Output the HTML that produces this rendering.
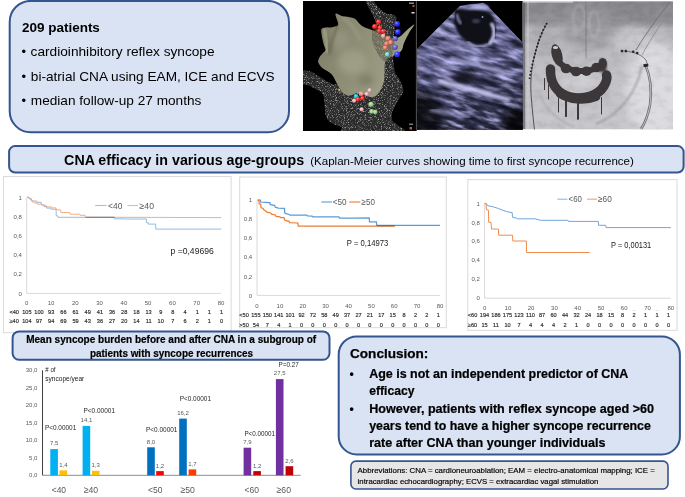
<!DOCTYPE html>
<html><head><meta charset="utf-8"><title>CNA efficacy</title>
<style>html,body{margin:0;padding:0;background:#fff;width:685px;height:497px;overflow:hidden}svg{display:block}</style></head><body>
<svg width="685" height="497" viewBox="0 0 685 497" font-family='"Liberation Sans", Arial, sans-serif'>
<rect x="0.0" y="0.0" width="685.0" height="497.0" rx="0" fill="#fff" stroke="none" stroke-width="1"/>
<rect x="9.7" y="0.9" width="279.3" height="131.4" rx="21" fill="#dae3f3" stroke="#34558f" stroke-width="2"/>
<text x="21.9" y="31.9" font-size="13" font-weight="bold" fill="#000" textLength="78.0" lengthAdjust="spacingAndGlyphs">209 patients</text>
<text x="21.6" y="56.3" font-size="13" fill="#000">•</text>
<text x="21.6" y="81.0" font-size="13" fill="#000">•</text>
<text x="21.6" y="105.1" font-size="13" fill="#000">•</text>
<text x="30.6" y="56.3" font-size="13.4" fill="#000" textLength="184.0" lengthAdjust="spacingAndGlyphs">cardioinhibitory reflex syncope</text>
<text x="30.8" y="81.0" font-size="13.4" fill="#000" textLength="243.9" lengthAdjust="spacingAndGlyphs">bi-atrial CNA using EAM, ICE and ECVS</text>
<text x="30.8" y="105.1" font-size="13.4" fill="#000" textLength="170.6" lengthAdjust="spacingAndGlyphs">median follow-up 27 months</text>
<defs>
<clipPath id="c1"><rect x="303" y="1" width="114" height="130"/></clipPath>
<clipPath id="c2"><rect x="417" y="1" width="105.8" height="128.8"/></clipPath>
<clipPath id="c3"><rect x="523" y="1.2" width="150" height="128.3"/></clipPath>
<filter id="speck" color-interpolation-filters="sRGB" x="0" y="0" width="1" height="1" filterUnits="objectBoundingBox">
 <feTurbulence type="fractalNoise" baseFrequency="1.37" numOctaves="2" seed="3" result="n"/>
 <feColorMatrix in="n" type="matrix" values="0 0 0 0 0.75  0 0 0 0 0.75  0 0 0 0 0.75  2.6 0 0 0 -1.32" result="dots"/>
 <feComposite in="dots" in2="SourceGraphic" operator="in" result="d2"/>
 <feMerge result="m"><feMergeNode in="SourceGraphic"/><feMergeNode in="d2"/></feMerge>
 <feGaussianBlur in="m" stdDeviation="0.75"/>
</filter>
<filter id="bl04" color-interpolation-filters="sRGB"><feGaussianBlur stdDeviation="0.4"/></filter>
<filter id="bl08" color-interpolation-filters="sRGB"><feGaussianBlur stdDeviation="0.8"/></filter>
<filter id="bl15" color-interpolation-filters="sRGB"><feGaussianBlur stdDeviation="1.5"/></filter>
<filter id="bl3" color-interpolation-filters="sRGB" x="-0.3" y="-0.3" width="1.6" height="1.6"><feGaussianBlur stdDeviation="3"/></filter>
<filter id="bl5" color-interpolation-filters="sRGB" x="-0.5" y="-0.5" width="2" height="2"><feGaussianBlur stdDeviation="5"/></filter>
<filter id="usn" color-interpolation-filters="sRGB" x="0" y="0" width="1" height="1" filterUnits="objectBoundingBox">
 <feTurbulence type="fractalNoise" baseFrequency="0.05 0.2" numOctaves="3" seed="7" result="n"/>
 <feColorMatrix in="n" type="matrix" values="0 0 0 0 0.74  0 0 0 0 0.74  0 0 0 0 0.95  2.8 0 0 0 -1.3" result="hi"/>
 <feColorMatrix in="n" type="matrix" values="0 0 0 0 0.05  0 0 0 0 0.05  0 0 0 0 0.1  -2.8 0 0 0 1.3" result="lo"/>
 <feMerge result="m"><feMergeNode in="lo"/><feMergeNode in="hi"/></feMerge>
 <feComposite in="m" in2="SourceGraphic" operator="in"/>
</filter>
<radialGradient id="sph" cx="0.38" cy="0.35" r="0.65">
 <stop offset="0" stop-color="#fff" stop-opacity="0.55"/><stop offset="0.5" stop-color="#fff" stop-opacity="0.1"/><stop offset="1" stop-color="#000" stop-opacity="0.35"/>
</radialGradient>
<linearGradient id="blobg" x1="0" y1="0" x2="1" y2="0.3">
 <stop offset="0" stop-color="#80806a"/><stop offset="0.5" stop-color="#8f8f78"/><stop offset="1" stop-color="#a2a28b"/>
</linearGradient>
<linearGradient id="usg" x1="0" y1="0" x2="0.25" y2="1">
 <stop offset="0" stop-color="#7476a6"/><stop offset="0.5" stop-color="#55567e"/><stop offset="1" stop-color="#2a2a42"/>
</linearGradient>
<filter id="xrn" color-interpolation-filters="sRGB" x="0" y="0" width="1" height="1" filterUnits="objectBoundingBox">
 <feTurbulence type="fractalNoise" baseFrequency="0.09 0.14" numOctaves="3" seed="11" result="n"/>
 <feColorMatrix in="n" type="matrix" values="0 0 0 0 1  0 0 0 0 1  0 0 0 0 1  2.5 0 0 0 -1.1" result="hi"/>
 <feColorMatrix in="n" type="matrix" values="0 0 0 0 0  0 0 0 0 0  0 0 0 0 0  -2.5 0 0 0 1.4" result="lo"/>
 <feMerge result="m"><feMergeNode in="lo"/><feMergeNode in="hi"/></feMerge>
 <feComposite in="m" in2="SourceGraphic" operator="in"/>
</filter>
<linearGradient id="xrg" x1="0" y1="0" x2="0" y2="1">
 <stop offset="0" stop-color="#88888c"/><stop offset="0.15" stop-color="#8e8e92"/><stop offset="0.22" stop-color="#b8b8bc"/><stop offset="1" stop-color="#c8c8cc"/>
</linearGradient>
</defs>
<g clip-path="url(#c1)">
<rect x="303" y="1" width="114" height="130" fill="#000"/>
<path d="M366.0,1.0 C366.3,-0.8 371.0,0.0 373.0,1.0 C375.0,2.0 376.0,5.0 378.0,7.0 C380.0,9.0 382.5,11.7 385.0,13.0 C387.5,14.3 391.1,13.7 393.0,14.6 C394.9,15.5 396.2,16.5 396.5,18.6 C396.8,20.7 395.4,23.8 395.0,27.0 C394.6,30.2 394.2,34.2 394.0,38.0 C393.8,41.8 393.6,46.0 393.5,50.0 C393.4,54.0 393.2,58.3 393.5,62.0 C393.8,65.7 394.1,69.2 395.0,72.0 C395.9,74.8 397.8,76.7 399.0,79.0 C400.2,81.3 401.8,83.8 402.5,86.0 C403.2,88.2 403.6,89.8 403.0,92.0 C402.4,94.2 400.4,96.5 399.0,99.0 C397.6,101.5 395.8,104.5 394.6,107.1 C393.4,109.6 391.9,111.9 391.7,114.3 C391.4,116.7 391.9,119.5 393.1,121.4 C394.3,123.3 397.6,123.9 398.9,125.7 C400.2,127.5 409.8,130.9 401.0,132.0 C392.2,133.1 355.9,132.8 346.0,132.0 C336.1,131.2 344.0,128.6 341.6,127.1 C339.2,125.6 334.2,124.8 331.6,122.9 C329.0,121.0 327.1,119.0 325.9,115.7 C324.7,112.4 324.9,106.5 324.4,102.9 C323.9,99.3 324.2,96.5 323.0,94.3 C321.8,92.1 319.5,91.4 317.3,90.0 C315.1,88.6 312.6,87.2 310.0,86.0 C307.4,84.8 303.3,85.4 302.0,83.0 C300.7,80.6 300.4,73.2 302.0,71.4 C303.6,69.6 307.4,70.4 311.6,72.1 C315.8,73.8 323.1,79.4 327.3,81.4 C331.5,83.4 333.2,85.1 337.0,84.0 C340.8,82.9 345.8,79.8 350.0,75.0 C354.2,70.2 358.3,61.2 362.0,55.0 C365.7,48.8 369.7,43.2 372.0,38.0 C374.3,32.8 376.2,28.3 376.0,24.0 C375.8,19.7 372.7,15.8 371.0,12.0 C369.3,8.2 365.7,2.8 366.0,1.0 Z" fill="#2b2b2b" filter="url(#speck)"/>
<clipPath id="blobc"><path d="M335.5,13.9 C336.1,12.4 339.6,15.4 341.5,15.9 C343.4,16.4 344.8,16.3 347.0,16.8 C349.2,17.3 352.8,17.7 354.8,18.8 C356.8,19.9 357.5,21.8 359.0,23.2 C360.5,24.6 361.6,25.8 364.0,27.0 C366.4,28.2 370.6,29.5 373.3,30.5 C376.0,31.5 377.9,31.9 380.0,33.0 C382.1,34.1 383.8,36.1 386.0,37.0 C388.2,37.9 390.7,38.6 393.0,38.5 C395.3,38.4 397.7,37.9 400.0,36.5 C402.3,35.1 404.6,32.0 407.0,30.0 C409.4,28.0 414.1,24.1 414.4,24.6 C414.7,25.1 410.7,29.9 409.0,33.0 C407.3,36.1 405.2,40.1 404.0,43.0 C402.8,45.9 403.0,48.5 401.5,50.5 C400.0,52.5 397.2,53.8 395.0,55.0 C392.8,56.2 389.7,56.7 388.0,58.0 C386.3,59.3 385.6,61.0 385.0,63.0 C384.4,65.0 384.8,66.9 384.6,70.0 C384.4,73.1 384.6,78.1 383.9,81.4 C383.2,84.7 381.6,87.6 380.3,90.0 C379.0,92.4 377.7,94.5 376.0,95.7 C374.3,96.9 372.4,97.3 370.3,97.1 C368.2,96.9 365.5,94.9 363.1,94.3 C360.7,93.7 358.2,93.0 356.0,93.2 C353.8,93.4 352.2,95.5 350.0,95.5 C347.8,95.5 345.1,94.8 343.0,92.9 C340.9,91.0 339.2,87.4 337.3,84.3 C335.4,81.2 334.0,76.9 331.6,74.3 C329.2,71.7 325.2,70.5 323.0,68.6 C320.8,66.7 319.2,64.7 318.5,63.0 C317.8,61.3 318.2,60.0 318.9,58.4 C319.6,56.8 321.8,54.5 322.9,53.1 C324.0,51.7 325.5,51.4 325.6,50.0 C325.8,48.6 324.5,47.1 323.8,44.5 C323.1,41.9 321.9,37.2 321.6,34.5 C321.4,31.8 320.5,29.4 322.3,28.2 C324.1,27.0 329.6,27.8 332.2,27.2 C334.8,26.6 337.6,26.8 338.2,24.6 C338.8,22.4 334.9,15.4 335.5,13.9 Z"/></clipPath>
<path d="M335.5,13.9 C336.1,12.4 339.6,15.4 341.5,15.9 C343.4,16.4 344.8,16.3 347.0,16.8 C349.2,17.3 352.8,17.7 354.8,18.8 C356.8,19.9 357.5,21.8 359.0,23.2 C360.5,24.6 361.6,25.8 364.0,27.0 C366.4,28.2 370.6,29.5 373.3,30.5 C376.0,31.5 377.9,31.9 380.0,33.0 C382.1,34.1 383.8,36.1 386.0,37.0 C388.2,37.9 390.7,38.6 393.0,38.5 C395.3,38.4 397.7,37.9 400.0,36.5 C402.3,35.1 404.6,32.0 407.0,30.0 C409.4,28.0 414.1,24.1 414.4,24.6 C414.7,25.1 410.7,29.9 409.0,33.0 C407.3,36.1 405.2,40.1 404.0,43.0 C402.8,45.9 403.0,48.5 401.5,50.5 C400.0,52.5 397.2,53.8 395.0,55.0 C392.8,56.2 389.7,56.7 388.0,58.0 C386.3,59.3 385.6,61.0 385.0,63.0 C384.4,65.0 384.8,66.9 384.6,70.0 C384.4,73.1 384.6,78.1 383.9,81.4 C383.2,84.7 381.6,87.6 380.3,90.0 C379.0,92.4 377.7,94.5 376.0,95.7 C374.3,96.9 372.4,97.3 370.3,97.1 C368.2,96.9 365.5,94.9 363.1,94.3 C360.7,93.7 358.2,93.0 356.0,93.2 C353.8,93.4 352.2,95.5 350.0,95.5 C347.8,95.5 345.1,94.8 343.0,92.9 C340.9,91.0 339.2,87.4 337.3,84.3 C335.4,81.2 334.0,76.9 331.6,74.3 C329.2,71.7 325.2,70.5 323.0,68.6 C320.8,66.7 319.2,64.7 318.5,63.0 C317.8,61.3 318.2,60.0 318.9,58.4 C319.6,56.8 321.8,54.5 322.9,53.1 C324.0,51.7 325.5,51.4 325.6,50.0 C325.8,48.6 324.5,47.1 323.8,44.5 C323.1,41.9 321.9,37.2 321.6,34.5 C321.4,31.8 320.5,29.4 322.3,28.2 C324.1,27.0 329.6,27.8 332.2,27.2 C334.8,26.6 337.6,26.8 338.2,24.6 C338.8,22.4 334.9,15.4 335.5,13.9 Z" fill="url(#blobg)" filter="url(#bl04)"/>
<g clip-path="url(#blobc)"><g filter="url(#bl3)"><ellipse cx="352" cy="62" rx="14" ry="12" fill="#a4a48c" opacity="0.7"/><ellipse cx="340" cy="40" rx="8" ry="10" fill="#a0a088" opacity="0.5"/><ellipse cx="328" cy="45" rx="3" ry="12" fill="#66664f" opacity="0.6"/><ellipse cx="366" cy="80" rx="8" ry="6" fill="#6e6e58" opacity="0.5"/></g></g>
<g clip-path="url(#blobc)"><path d="M324,29 C326,38 327.5,46 327,53" stroke="#aaaa92" stroke-width="3" fill="none" opacity="0.8" filter="url(#bl08)"/><path d="M338,26 C334,34 331,44 329,54" stroke="#66664f" stroke-width="2" fill="none" opacity="0.7" filter="url(#bl08)"/><path d="M342,17 C350,22 356,30 360,40" stroke="#a6a68e" stroke-width="3" fill="none" opacity="0.5" filter="url(#bl15)"/></g>
<path d="M372,30 C380,28 390,34 394,40 C396,48 392,58 386,62 C380,60 375,50 372,40 Z" fill="#50503f" opacity="0.55" filter="url(#speck)"/>
<g filter="url(#bl04)"><circle cx="378.6" cy="21.9" r="2.5" fill="#ff1010"/><circle cx="378.6" cy="21.9" r="2.5" fill="url(#sph)"/></g>
<g filter="url(#bl04)"><circle cx="374.6" cy="26.6" r="2.5" fill="#ff1010"/><circle cx="374.6" cy="26.6" r="2.5" fill="url(#sph)"/></g>
<g filter="url(#bl04)"><circle cx="379.9" cy="27.9" r="2.4" fill="#ee1010"/><circle cx="379.9" cy="27.9" r="2.4" fill="url(#sph)"/></g>
<g filter="url(#bl04)"><circle cx="379.2" cy="31.2" r="2.4" fill="#ee1010"/><circle cx="379.2" cy="31.2" r="2.4" fill="url(#sph)"/></g>
<g filter="url(#bl04)"><circle cx="383.2" cy="31.2" r="2.3" fill="#ee1818"/><circle cx="383.2" cy="31.2" r="2.3" fill="url(#sph)"/></g>
<g filter="url(#bl04)"><circle cx="397.2" cy="23.9" r="2.9" fill="#1010ff"/><circle cx="397.2" cy="23.9" r="2.9" fill="url(#sph)"/></g>
<g filter="url(#bl04)"><circle cx="397.8" cy="31.9" r="2.9" fill="#1010ff"/><circle cx="397.8" cy="31.9" r="2.9" fill="url(#sph)"/></g>
<g filter="url(#bl04)"><circle cx="395.2" cy="38.5" r="2.5" fill="#4848d8"/><circle cx="395.2" cy="38.5" r="2.5" fill="url(#sph)"/></g>
<g filter="url(#bl04)"><circle cx="395.2" cy="47.1" r="2.6" fill="#5050e0"/><circle cx="395.2" cy="47.1" r="2.6" fill="url(#sph)"/></g>
<g filter="url(#bl04)"><circle cx="397.2" cy="54.4" r="2.9" fill="#1818ff"/><circle cx="397.2" cy="54.4" r="2.9" fill="url(#sph)"/></g>
<g filter="url(#bl04)"><circle cx="387.9" cy="38.5" r="2.4" fill="#f07060"/><circle cx="387.9" cy="38.5" r="2.4" fill="url(#sph)"/></g>
<g filter="url(#bl04)"><circle cx="390.5" cy="42.5" r="2.4" fill="#f07060"/><circle cx="390.5" cy="42.5" r="2.4" fill="url(#sph)"/></g>
<g filter="url(#bl04)"><circle cx="386.5" cy="43.8" r="2.4" fill="#e86a5a"/><circle cx="386.5" cy="43.8" r="2.4" fill="url(#sph)"/></g>
<g filter="url(#bl04)"><circle cx="385.2" cy="47.8" r="2.4" fill="#e86a5a"/><circle cx="385.2" cy="47.8" r="2.4" fill="url(#sph)"/></g>
<g filter="url(#bl04)"><circle cx="383.2" cy="35.9" r="2.2" fill="#f0a0a0"/><circle cx="383.2" cy="35.9" r="2.2" fill="url(#sph)"/></g>
<g filter="url(#bl04)"><circle cx="387.2" cy="54.4" r="2.3" fill="#60e0d0"/><circle cx="387.2" cy="54.4" r="2.3" fill="url(#sph)"/></g>
<g filter="url(#bl04)"><circle cx="356.1" cy="96.4" r="2.3" fill="#10c0c8"/><circle cx="356.1" cy="96.4" r="2.3" fill="url(#sph)"/></g>
<g filter="url(#bl04)"><circle cx="360.9" cy="93.6" r="2.2" fill="#f4a0a8"/><circle cx="360.9" cy="93.6" r="2.2" fill="url(#sph)"/></g>
<g filter="url(#bl04)"><circle cx="358" cy="99.3" r="2.2" fill="#ff1010"/><circle cx="358" cy="99.3" r="2.2" fill="url(#sph)"/></g>
<g filter="url(#bl04)"><circle cx="362.4" cy="98.3" r="2.2" fill="#ff1010"/><circle cx="362.4" cy="98.3" r="2.2" fill="url(#sph)"/></g>
<g filter="url(#bl04)"><circle cx="354.1" cy="100.7" r="2.1" fill="#f0b0b8"/><circle cx="354.1" cy="100.7" r="2.1" fill="url(#sph)"/></g>
<g filter="url(#bl04)"><circle cx="361.6" cy="109.3" r="2.1" fill="#f0b0b8"/><circle cx="361.6" cy="109.3" r="2.1" fill="url(#sph)"/></g>
<g filter="url(#bl04)"><circle cx="369.6" cy="90.3" r="2.1" fill="#f0b0b8"/><circle cx="369.6" cy="90.3" r="2.1" fill="url(#sph)"/></g>
<g filter="url(#bl04)"><circle cx="366.7" cy="94" r="2.1" fill="#f0b0b8"/><circle cx="366.7" cy="94" r="2.1" fill="url(#sph)"/></g>
<g filter="url(#bl04)"><circle cx="361.7" cy="94" r="2.1" fill="#f08080"/><circle cx="361.7" cy="94" r="2.1" fill="url(#sph)"/></g>
<g filter="url(#bl04)"><circle cx="371" cy="104.3" r="2.6" fill="#90d080"/><circle cx="371" cy="104.3" r="2.6" fill="url(#sph)"/></g>
<g filter="url(#bl04)"><circle cx="371.7" cy="111.4" r="2.4" fill="#90d080"/><circle cx="371.7" cy="111.4" r="2.4" fill="url(#sph)"/></g>
<g filter="url(#bl04)"><circle cx="375.3" cy="112.1" r="2.3" fill="#90d080"/><circle cx="375.3" cy="112.1" r="2.3" fill="url(#sph)"/></g>
<g filter="url(#bl04)"><circle cx="339.4" cy="90" r="1.3" fill="#b09040"/><circle cx="339.4" cy="90" r="1.3" fill="url(#sph)"/></g>
<rect x="409" y="2.5" width="5" height="1.5" fill="#888"/><rect x="412.5" y="5" width="2" height="2" fill="#c05020"/><rect x="411.5" y="12" width="3" height="1.5" fill="#f0d0d8"/><rect x="409" y="123.5" width="4" height="1.5" fill="#777"/><rect x="409.5" y="127" width="2.5" height="2.5" fill="#b06040"/>
<line x1="416.4" y1="1" x2="416.4" y2="131" stroke="#6a6a6a" stroke-width="0.8"/>
</g>
<g clip-path="url(#c2)">
<rect x="417" y="1" width="105.8" height="128.8" fill="#000"/>
<clipPath id="secc"><path d="M417.0,49.0 L421.3,44.5 L459.8,6.0 L469.0,4.5 L476.0,4.2 L482.9,2.7 L486.9,5.3 L521.4,41.2 L523.0,43.0 L523.0,131.0 L417.0,131.0 Z"/></clipPath>
<path d="M417.0,49.0 L421.3,44.5 L459.8,6.0 L469.0,4.5 L476.0,4.2 L482.9,2.7 L486.9,5.3 L521.4,41.2 L523.0,43.0 L523.0,131.0 L417.0,131.0 Z" fill="url(#usg)"/>
<g clip-path="url(#secc)"><g transform="rotate(16 470 65)"><rect x="390" y="-20" width="170" height="170" fill="#fff" filter="url(#usn)"/></g></g>
<ellipse cx="420" cy="120" rx="22" ry="30" fill="#000" opacity="0.75" filter="url(#bl5)"/>
<ellipse cx="521" cy="124" rx="18" ry="16" fill="#000" opacity="0.8" filter="url(#bl5)"/>
<path d="M452,74 L500,86" stroke="#1c1c30" stroke-width="7" opacity="0.7" filter="url(#bl3)"/>
<ellipse cx="465" cy="78" rx="9" ry="6" fill="#101018" opacity="0.75" filter="url(#bl3)"/>
<path d="M438,81 C455,85 470,89 483,93 L510,100" stroke="#cacaf4" stroke-width="4" fill="none" opacity="0.95" filter="url(#bl15)"/>
<path d="M450,58 C465,62 485,67 506,73" stroke="#b4b4e4" stroke-width="3.2" fill="none" opacity="0.85" filter="url(#bl15)"/>
<path d="M430,110 C445,112 458,114 470,117" stroke="#aaaadc" stroke-width="3.2" fill="none" opacity="0.75" filter="url(#bl15)"/>
<path d="M425,60 C440,64 452,66 460,70" stroke="#9898c8" stroke-width="2.5" fill="none" opacity="0.5" filter="url(#bl15)"/>
<ellipse cx="479" cy="7.5" rx="10" ry="3" fill="#b0b0e0" filter="url(#bl15)"/>
<path d="M455.7,9.7 C458.1,8.9 463.6,9.3 469.0,9.7 C474.4,10.1 483.9,9.6 488.3,12.0 C492.7,14.4 494.7,19.4 495.5,24.0 C496.3,28.6 495.6,36.0 493.0,39.8 C490.4,43.6 484.6,47.0 479.8,47.0 C475.0,47.0 468.1,42.7 464.1,39.5 C460.1,36.3 457.3,31.9 455.7,27.7 C454.1,23.5 454.5,17.5 454.5,14.5 C454.5,11.5 453.3,10.5 455.7,9.7 Z" fill="#101018" filter="url(#bl08)"/>
<path d="M491,23 C495.5,29 495,38 489,44" stroke="#c4c4f0" stroke-width="3.2" fill="none" filter="url(#bl08)"/>
<path d="M467,41.5 C473,46.5 481,48 489,44" stroke="#b0b0e0" stroke-width="2.2" fill="none" filter="url(#bl08)"/>
<path d="M457,14 C457.5,18 459,22 461.5,24" stroke="#8c8cc0" stroke-width="2.2" fill="none" filter="url(#bl08)"/>
<circle cx="482.5" cy="17" r="0.9" fill="#a0a0d0"/>
<ellipse cx="476" cy="21" rx="4" ry="2" fill="#40405a" filter="url(#bl08)"/>
</g>
<g clip-path="url(#c3)">
<rect x="523" y="1.2" width="150" height="128.3" fill="url(#xrg)"/>
<g filter="url(#bl5)"><ellipse cx="590" cy="28" rx="30" ry="22" fill="#98989c" opacity="0.8"/><ellipse cx="655" cy="90" rx="30" ry="48" fill="#dedee2" opacity="0.9"/><rect x="600" y="1" width="75" height="20" fill="#858589" opacity="0.5"/><ellipse cx="630" cy="40" rx="20" ry="10" fill="#d0d0d4" opacity="0.6"/><ellipse cx="545" cy="40" rx="14" ry="14" fill="#a4a4a8" opacity="0.6"/><ellipse cx="580" cy="82" rx="18" ry="9" fill="#d2d2d6" opacity="0.8"/><ellipse cx="575" cy="118" rx="40" ry="10" fill="#c4c4c8" opacity="0.6"/></g>
<rect x="523" y="1.2" width="150" height="128.3" fill="#fff" opacity="0.06" filter="url(#xrn)"/>
<rect x="523" y="1.2" width="2.2" height="128" fill="#5a5a5e" opacity="0.7"/>
<line x1="528" y1="2" x2="528.5" y2="130" stroke="#d6d6da" stroke-width="2" opacity="0.6" filter="url(#bl08)"/>
<g fill="none" stroke="#bebec2" stroke-width="1.6" opacity="0.5" filter="url(#bl08)"><ellipse cx="579" cy="18" rx="6" ry="12"/><ellipse cx="594" cy="24" rx="5" ry="13"/><path d="M562,30 C568,25 575,28 577,36"/></g>
<path d="M586,2 L586.5,58" stroke="#707074" stroke-width="3" opacity="0.5" filter="url(#bl15)"/>
<path d="M642,66 C638,85 630,98 620,108 C612,116 604,121 596,124" stroke="#8a8a90" stroke-width="1.4" fill="none" opacity="0.8" filter="url(#bl08)"/>
<path d="M540,96 C548,112 560,122 575,127" stroke="#9a9a9e" stroke-width="1.2" fill="none" opacity="0.8" filter="url(#bl08)"/>
<g filter="url(#bl04)"><path d="M555,50 C555,60 562,68 574,70.5 C585,72 596,70 602,64" stroke="#3c3738" stroke-width="6" fill="none"/><ellipse cx="557" cy="55" rx="5.2" ry="11" fill="#3c3738" transform="rotate(-15 557 55)"/><ellipse cx="566" cy="68.5" rx="5.2" ry="4.8" fill="#3c3738"/><ellipse cx="576" cy="71.5" rx="5.2" ry="4.8" fill="#3c3738"/><ellipse cx="586.5" cy="71.2" rx="5.2" ry="4.8" fill="#3c3738"/><ellipse cx="596.5" cy="67.5" rx="5.2" ry="4.8" fill="#3c3738"/><ellipse cx="602.7" cy="63.5" rx="4.2" ry="5.5" fill="#3c3738"/><path d="M550.5,69 C550,82 556,93 570,97 C584,100 598,96 604,86 C607,81 607.5,78 606.5,75" stroke="#3c3738" stroke-width="9.5" fill="none" stroke-linecap="round"/><path d="M560,94 C570,100 584,102 596,97" stroke="#3c3738" stroke-width="8" fill="none" stroke-linecap="round"/></g>
<ellipse cx="555.5" cy="47.5" rx="2.6" ry="1.6" fill="#d0d0d4" filter="url(#bl04)"/>
<path d="M600,59 C604,58 607,61 606.5,66 L606,72 L599,72 Z" fill="#3c3738" filter="url(#bl08)"/>
<line x1="544.8" y1="79" x2="544.6" y2="89" stroke="#3c3738" stroke-width="3" stroke-linecap="round" filter="url(#bl04)"/>
<line x1="548.4" y1="86" x2="548.2" y2="98" stroke="#3c3738" stroke-width="3" stroke-linecap="round" filter="url(#bl04)"/>
<line x1="558.8" y1="99" x2="558.6" y2="111" stroke="#3c3738" stroke-width="3" stroke-linecap="round" filter="url(#bl04)"/>
<line x1="566.2" y1="102" x2="565.8" y2="115.6" stroke="#3c3738" stroke-width="3" stroke-linecap="round" filter="url(#bl04)"/>
<line x1="578.3" y1="104" x2="578" y2="118.3" stroke="#3c3738" stroke-width="3" stroke-linecap="round" filter="url(#bl04)"/>
<line x1="601.4" y1="98.4" x2="601.2" y2="113" stroke="#3c3738" stroke-width="3" stroke-linecap="round" filter="url(#bl04)"/>
<path d="M547,23 C541,33 537,45 534,58 C531,70 530,85 531.5,100 C532.5,112 533.5,122 534.5,130" stroke="#505054" stroke-width="1" fill="none"/>
<path d="M547,23 C541,33 537,45 534,58 C532,66 530.5,72 529.5,79" stroke="#1e1e22" stroke-width="1.8" stroke-dasharray="1.6 2" fill="none"/>
<path d="M670,2 C660,15 648,30 636,50" stroke="#707074" stroke-width="0.9" fill="none"/>
<path d="M672,8 C664,20 652,36 642,55" stroke="#8a8a8e" stroke-width="0.8" fill="none"/>
<path d="M645,64 C650,75 652,90 650,105 C648,115 645,123 641,129" stroke="#707074" stroke-width="2.6" fill="none"/>
<path d="M645,64 C650,75 652,90 650,105 C648,115 645,123 641,129" stroke="#c8c8cc" stroke-width="0.9" fill="none"/>
<rect x="643.5" y="64" width="4" height="3" fill="#2a2a2a"/>
<path d="M621,51 C630,51 640,53 646,60 L648,66" stroke="#606064" stroke-width="0.8" fill="none"/>
<circle cx="621.9" cy="51.1" r="1.3" fill="#2a2a2e"/>
<circle cx="625.9" cy="51.1" r="1.3" fill="#2a2a2e"/>
<circle cx="633.2" cy="51.8" r="1.3" fill="#2a2a2e"/>
<circle cx="637.2" cy="53.1" r="1.3" fill="#2a2a2e"/>
<circle cx="647.1" cy="65" r="1.3" fill="#2a2a2e"/>
<rect x="523" y="1.2" width="50" height="1.2" fill="#e8e8e8"/>
</g>
<rect x="9.1" y="146.1" width="674.5" height="26.4" rx="6" fill="#dae3f3" stroke="#34558f" stroke-width="2"/>
<text x="64.1" y="165.4" font-size="14" font-weight="bold" fill="#000" textLength="240.0" lengthAdjust="spacingAndGlyphs">CNA efficacy in various age-groups</text>
<text x="310.2" y="165.4" font-size="11.2" fill="#000" textLength="323.7" lengthAdjust="spacingAndGlyphs">(Kaplan-Meier curves showing time to first syncope recurrence)</text>
<rect x="3.6" y="176.6" width="227.5" height="156.1" rx="0" fill="#fff" stroke="#d9d9d9" stroke-width="1"/>
<line x1="26.7" y1="198.0" x2="26.7" y2="293.4" stroke="#d9d9d9" stroke-width="1"/>
<line x1="26.7" y1="293.4" x2="221.0" y2="293.4" stroke="#d9d9d9" stroke-width="1"/>
<text x="21.9" y="295.5" font-size="6" text-anchor="end" fill="#595959">0</text>
<text x="21.9" y="276.4" font-size="6" text-anchor="end" fill="#595959">0,2</text>
<text x="21.9" y="257.3" font-size="6" text-anchor="end" fill="#595959">0,4</text>
<text x="21.9" y="238.3" font-size="6" text-anchor="end" fill="#595959">0,6</text>
<text x="21.9" y="219.2" font-size="6" text-anchor="end" fill="#595959">0,8</text>
<text x="21.9" y="200.1" font-size="6" text-anchor="end" fill="#595959">1</text>
<text x="26.7" y="305.1" font-size="6" text-anchor="middle" fill="#595959">0</text>
<text x="51.0" y="305.1" font-size="6" text-anchor="middle" fill="#595959">10</text>
<text x="75.3" y="305.1" font-size="6" text-anchor="middle" fill="#595959">20</text>
<text x="99.6" y="305.1" font-size="6" text-anchor="middle" fill="#595959">30</text>
<text x="123.9" y="305.1" font-size="6" text-anchor="middle" fill="#595959">40</text>
<text x="148.1" y="305.1" font-size="6" text-anchor="middle" fill="#595959">50</text>
<text x="172.4" y="305.1" font-size="6" text-anchor="middle" fill="#595959">60</text>
<text x="196.7" y="305.1" font-size="6" text-anchor="middle" fill="#595959">70</text>
<text x="221.0" y="305.1" font-size="6" text-anchor="middle" fill="#595959">80</text>
<text x="14.2" y="314.1" font-size="5.6" text-anchor="middle" fill="#2a2a2a" stroke="#2a2a2a" stroke-width="0.15">&lt;40</text>
<text x="26.9" y="314.1" font-size="5.6" text-anchor="middle" fill="#2a2a2a" stroke="#2a2a2a" stroke-width="0.15">105</text>
<text x="39.0" y="314.1" font-size="5.6" text-anchor="middle" fill="#2a2a2a" stroke="#2a2a2a" stroke-width="0.15">100</text>
<text x="51.2" y="314.1" font-size="5.6" text-anchor="middle" fill="#2a2a2a" stroke="#2a2a2a" stroke-width="0.15">93</text>
<text x="63.4" y="314.1" font-size="5.6" text-anchor="middle" fill="#2a2a2a" stroke="#2a2a2a" stroke-width="0.15">66</text>
<text x="75.5" y="314.1" font-size="5.6" text-anchor="middle" fill="#2a2a2a" stroke="#2a2a2a" stroke-width="0.15">61</text>
<text x="87.7" y="314.1" font-size="5.6" text-anchor="middle" fill="#2a2a2a" stroke="#2a2a2a" stroke-width="0.15">49</text>
<text x="99.9" y="314.1" font-size="5.6" text-anchor="middle" fill="#2a2a2a" stroke="#2a2a2a" stroke-width="0.15">41</text>
<text x="112.0" y="314.1" font-size="5.6" text-anchor="middle" fill="#2a2a2a" stroke="#2a2a2a" stroke-width="0.15">36</text>
<text x="124.2" y="314.1" font-size="5.6" text-anchor="middle" fill="#2a2a2a" stroke="#2a2a2a" stroke-width="0.15">28</text>
<text x="136.4" y="314.1" font-size="5.6" text-anchor="middle" fill="#2a2a2a" stroke="#2a2a2a" stroke-width="0.15">18</text>
<text x="148.6" y="314.1" font-size="5.6" text-anchor="middle" fill="#2a2a2a" stroke="#2a2a2a" stroke-width="0.15">13</text>
<text x="160.7" y="314.1" font-size="5.6" text-anchor="middle" fill="#2a2a2a" stroke="#2a2a2a" stroke-width="0.15">9</text>
<text x="172.9" y="314.1" font-size="5.6" text-anchor="middle" fill="#2a2a2a" stroke="#2a2a2a" stroke-width="0.15">8</text>
<text x="185.1" y="314.1" font-size="5.6" text-anchor="middle" fill="#2a2a2a" stroke="#2a2a2a" stroke-width="0.15">4</text>
<text x="197.2" y="314.1" font-size="5.6" text-anchor="middle" fill="#2a2a2a" stroke="#2a2a2a" stroke-width="0.15">1</text>
<text x="209.4" y="314.1" font-size="5.6" text-anchor="middle" fill="#2a2a2a" stroke="#2a2a2a" stroke-width="0.15">1</text>
<text x="221.6" y="314.1" font-size="5.6" text-anchor="middle" fill="#2a2a2a" stroke="#2a2a2a" stroke-width="0.15">1</text>
<text x="14.2" y="323.1" font-size="5.6" text-anchor="middle" fill="#2a2a2a" stroke="#2a2a2a" stroke-width="0.15">≥40</text>
<text x="26.9" y="323.1" font-size="5.6" text-anchor="middle" fill="#2a2a2a" stroke="#2a2a2a" stroke-width="0.15">104</text>
<text x="39.0" y="323.1" font-size="5.6" text-anchor="middle" fill="#2a2a2a" stroke="#2a2a2a" stroke-width="0.15">97</text>
<text x="51.2" y="323.1" font-size="5.6" text-anchor="middle" fill="#2a2a2a" stroke="#2a2a2a" stroke-width="0.15">94</text>
<text x="63.4" y="323.1" font-size="5.6" text-anchor="middle" fill="#2a2a2a" stroke="#2a2a2a" stroke-width="0.15">69</text>
<text x="75.5" y="323.1" font-size="5.6" text-anchor="middle" fill="#2a2a2a" stroke="#2a2a2a" stroke-width="0.15">59</text>
<text x="87.7" y="323.1" font-size="5.6" text-anchor="middle" fill="#2a2a2a" stroke="#2a2a2a" stroke-width="0.15">43</text>
<text x="99.9" y="323.1" font-size="5.6" text-anchor="middle" fill="#2a2a2a" stroke="#2a2a2a" stroke-width="0.15">36</text>
<text x="112.0" y="323.1" font-size="5.6" text-anchor="middle" fill="#2a2a2a" stroke="#2a2a2a" stroke-width="0.15">27</text>
<text x="124.2" y="323.1" font-size="5.6" text-anchor="middle" fill="#2a2a2a" stroke="#2a2a2a" stroke-width="0.15">20</text>
<text x="136.4" y="323.1" font-size="5.6" text-anchor="middle" fill="#2a2a2a" stroke="#2a2a2a" stroke-width="0.15">14</text>
<text x="148.6" y="323.1" font-size="5.6" text-anchor="middle" fill="#2a2a2a" stroke="#2a2a2a" stroke-width="0.15">11</text>
<text x="160.7" y="323.1" font-size="5.6" text-anchor="middle" fill="#2a2a2a" stroke="#2a2a2a" stroke-width="0.15">10</text>
<text x="172.9" y="323.1" font-size="5.6" text-anchor="middle" fill="#2a2a2a" stroke="#2a2a2a" stroke-width="0.15">7</text>
<text x="185.1" y="323.1" font-size="5.6" text-anchor="middle" fill="#2a2a2a" stroke="#2a2a2a" stroke-width="0.15">6</text>
<text x="197.2" y="323.1" font-size="5.6" text-anchor="middle" fill="#2a2a2a" stroke="#2a2a2a" stroke-width="0.15">2</text>
<text x="209.4" y="323.1" font-size="5.6" text-anchor="middle" fill="#2a2a2a" stroke="#2a2a2a" stroke-width="0.15">1</text>
<text x="221.6" y="323.1" font-size="5.6" text-anchor="middle" fill="#2a2a2a" stroke="#2a2a2a" stroke-width="0.15">0</text>
<line x1="95.1" y1="205.5" x2="106.6" y2="205.5" stroke="#9cc2e8" stroke-width="1.1"/>
<text x="108.1" y="208.7" font-size="9" fill="#595959" textLength="14.3" lengthAdjust="spacingAndGlyphs">&lt;40</text>
<line x1="127.4" y1="205.5" x2="138.1" y2="205.5" stroke="#f4b48a" stroke-width="1.1"/>
<text x="139.6" y="208.7" font-size="9" fill="#595959" textLength="14.4" lengthAdjust="spacingAndGlyphs">≥40</text>
<text x="170.5" y="253.6" font-size="9.4" fill="#1a1a1a" textLength="43.3" lengthAdjust="spacingAndGlyphs">p =0,49696</text>
<polyline points="26.9,197.2 28.9,197.2 29.2,198.7 31.5,198.7 31.8,201.0 36.6,201.0 36.9,202.3 41.2,202.3 41.5,205.0 43.8,205.0 44.1,206.6 46.4,206.6 46.7,208.1 50.7,208.1 51.0,209.2 56.0,209.2 56.3,215.8 57.6,215.8 57.9,217.3 114.3,217.3 114.6,218.8 125.0,218.8 125.1,219.0 146.4,219.0 146.4,222.7 148.4,222.7 148.4,224.1 155.7,224.1 155.7,229.1 221.2,229.1" fill="none" stroke="#86b4e2" stroke-width="0.9" stroke-linejoin="miter"/>
<polyline points="26.9,197.2 28.9,197.2 29.2,198.7 30.4,198.7 30.7,200.0 32.0,200.0 32.3,202.0 34.6,202.0 34.9,203.0 36.9,203.0 37.2,204.1 41.5,204.1 41.8,204.9 44.5,204.9 44.8,205.8 46.8,205.8 47.1,206.9 51.4,206.9 51.7,207.9 56.0,207.9 56.3,209.9 60.6,209.9 60.9,212.5 69.8,212.5 70.1,214.2 79.8,214.2 80.1,215.3 85.1,215.3 85.5,217.3 125.0,217.3 221.2,217.6" fill="none" stroke="#f2a672" stroke-width="0.9" stroke-linejoin="miter"/>
<line x1="85.8" y1="217.3" x2="114.5" y2="217.3" stroke="#707070" stroke-width="0.9"/>
<rect x="239.7" y="177.0" width="206.6" height="150.7" rx="0" fill="#fff" stroke="#d9d9d9" stroke-width="1"/>
<line x1="257.0" y1="200.2" x2="257.0" y2="295.4" stroke="#d9d9d9" stroke-width="1"/>
<line x1="257.0" y1="295.4" x2="440.0" y2="295.4" stroke="#d9d9d9" stroke-width="1"/>
<text x="252.2" y="297.5" font-size="6" text-anchor="end" fill="#595959">0</text>
<text x="252.2" y="278.5" font-size="6" text-anchor="end" fill="#595959">0,2</text>
<text x="252.2" y="259.4" font-size="6" text-anchor="end" fill="#595959">0,4</text>
<text x="252.2" y="240.4" font-size="6" text-anchor="end" fill="#595959">0,6</text>
<text x="252.2" y="221.3" font-size="6" text-anchor="end" fill="#595959">0,8</text>
<text x="252.2" y="202.3" font-size="6" text-anchor="end" fill="#595959">1</text>
<text x="257.0" y="308.1" font-size="6" text-anchor="middle" fill="#595959">0</text>
<text x="279.9" y="308.1" font-size="6" text-anchor="middle" fill="#595959">10</text>
<text x="302.8" y="308.1" font-size="6" text-anchor="middle" fill="#595959">20</text>
<text x="325.6" y="308.1" font-size="6" text-anchor="middle" fill="#595959">30</text>
<text x="348.5" y="308.1" font-size="6" text-anchor="middle" fill="#595959">40</text>
<text x="371.4" y="308.1" font-size="6" text-anchor="middle" fill="#595959">50</text>
<text x="394.2" y="308.1" font-size="6" text-anchor="middle" fill="#595959">60</text>
<text x="417.1" y="308.1" font-size="6" text-anchor="middle" fill="#595959">70</text>
<text x="440.0" y="308.1" font-size="6" text-anchor="middle" fill="#595959">80</text>
<text x="244.0" y="316.9" font-size="5.6" text-anchor="middle" fill="#2a2a2a" stroke="#2a2a2a" stroke-width="0.15">&lt;50</text>
<text x="255.9" y="316.9" font-size="5.6" text-anchor="middle" fill="#2a2a2a" stroke="#2a2a2a" stroke-width="0.15">155</text>
<text x="267.3" y="316.9" font-size="5.6" text-anchor="middle" fill="#2a2a2a" stroke="#2a2a2a" stroke-width="0.15">150</text>
<text x="278.7" y="316.9" font-size="5.6" text-anchor="middle" fill="#2a2a2a" stroke="#2a2a2a" stroke-width="0.15">141</text>
<text x="290.1" y="316.9" font-size="5.6" text-anchor="middle" fill="#2a2a2a" stroke="#2a2a2a" stroke-width="0.15">101</text>
<text x="301.5" y="316.9" font-size="5.6" text-anchor="middle" fill="#2a2a2a" stroke="#2a2a2a" stroke-width="0.15">92</text>
<text x="312.9" y="316.9" font-size="5.6" text-anchor="middle" fill="#2a2a2a" stroke="#2a2a2a" stroke-width="0.15">72</text>
<text x="324.3" y="316.9" font-size="5.6" text-anchor="middle" fill="#2a2a2a" stroke="#2a2a2a" stroke-width="0.15">58</text>
<text x="335.7" y="316.9" font-size="5.6" text-anchor="middle" fill="#2a2a2a" stroke="#2a2a2a" stroke-width="0.15">49</text>
<text x="347.1" y="316.9" font-size="5.6" text-anchor="middle" fill="#2a2a2a" stroke="#2a2a2a" stroke-width="0.15">37</text>
<text x="358.5" y="316.9" font-size="5.6" text-anchor="middle" fill="#2a2a2a" stroke="#2a2a2a" stroke-width="0.15">27</text>
<text x="369.9" y="316.9" font-size="5.6" text-anchor="middle" fill="#2a2a2a" stroke="#2a2a2a" stroke-width="0.15">21</text>
<text x="381.3" y="316.9" font-size="5.6" text-anchor="middle" fill="#2a2a2a" stroke="#2a2a2a" stroke-width="0.15">17</text>
<text x="392.7" y="316.9" font-size="5.6" text-anchor="middle" fill="#2a2a2a" stroke="#2a2a2a" stroke-width="0.15">15</text>
<text x="404.1" y="316.9" font-size="5.6" text-anchor="middle" fill="#2a2a2a" stroke="#2a2a2a" stroke-width="0.15">8</text>
<text x="415.5" y="316.9" font-size="5.6" text-anchor="middle" fill="#2a2a2a" stroke="#2a2a2a" stroke-width="0.15">2</text>
<text x="426.9" y="316.9" font-size="5.6" text-anchor="middle" fill="#2a2a2a" stroke="#2a2a2a" stroke-width="0.15">2</text>
<text x="438.3" y="316.9" font-size="5.6" text-anchor="middle" fill="#2a2a2a" stroke="#2a2a2a" stroke-width="0.15">1</text>
<text x="244.0" y="326.5" font-size="5.6" text-anchor="middle" fill="#2a2a2a" stroke="#2a2a2a" stroke-width="0.15">&gt;50</text>
<text x="255.9" y="326.5" font-size="5.6" text-anchor="middle" fill="#2a2a2a" stroke="#2a2a2a" stroke-width="0.15">54</text>
<text x="267.3" y="326.5" font-size="5.6" text-anchor="middle" fill="#2a2a2a" stroke="#2a2a2a" stroke-width="0.15">7</text>
<text x="278.7" y="326.5" font-size="5.6" text-anchor="middle" fill="#2a2a2a" stroke="#2a2a2a" stroke-width="0.15">4</text>
<text x="290.1" y="326.5" font-size="5.6" text-anchor="middle" fill="#2a2a2a" stroke="#2a2a2a" stroke-width="0.15">1</text>
<text x="301.5" y="326.5" font-size="5.6" text-anchor="middle" fill="#2a2a2a" stroke="#2a2a2a" stroke-width="0.15">0</text>
<text x="312.9" y="326.5" font-size="5.6" text-anchor="middle" fill="#2a2a2a" stroke="#2a2a2a" stroke-width="0.15">0</text>
<text x="324.3" y="326.5" font-size="5.6" text-anchor="middle" fill="#2a2a2a" stroke="#2a2a2a" stroke-width="0.15">0</text>
<text x="335.7" y="326.5" font-size="5.6" text-anchor="middle" fill="#2a2a2a" stroke="#2a2a2a" stroke-width="0.15">0</text>
<text x="347.1" y="326.5" font-size="5.6" text-anchor="middle" fill="#2a2a2a" stroke="#2a2a2a" stroke-width="0.15">0</text>
<text x="358.5" y="326.5" font-size="5.6" text-anchor="middle" fill="#2a2a2a" stroke="#2a2a2a" stroke-width="0.15">0</text>
<text x="369.9" y="326.5" font-size="5.6" text-anchor="middle" fill="#2a2a2a" stroke="#2a2a2a" stroke-width="0.15">0</text>
<text x="381.3" y="326.5" font-size="5.6" text-anchor="middle" fill="#2a2a2a" stroke="#2a2a2a" stroke-width="0.15">0</text>
<text x="392.7" y="326.5" font-size="5.6" text-anchor="middle" fill="#2a2a2a" stroke="#2a2a2a" stroke-width="0.15">0</text>
<text x="404.1" y="326.5" font-size="5.6" text-anchor="middle" fill="#2a2a2a" stroke="#2a2a2a" stroke-width="0.15">0</text>
<text x="415.5" y="326.5" font-size="5.6" text-anchor="middle" fill="#2a2a2a" stroke="#2a2a2a" stroke-width="0.15">0</text>
<text x="426.9" y="326.5" font-size="5.6" text-anchor="middle" fill="#2a2a2a" stroke="#2a2a2a" stroke-width="0.15">0</text>
<text x="438.3" y="326.5" font-size="5.6" text-anchor="middle" fill="#2a2a2a" stroke="#2a2a2a" stroke-width="0.15">0</text>
<line x1="321.3" y1="202.0" x2="332.0" y2="202.0" stroke="#5b9bd5" stroke-width="1.1"/>
<text x="332.8" y="205.2" font-size="9" fill="#595959" textLength="13.8" lengthAdjust="spacingAndGlyphs">&lt;50</text>
<line x1="349.3" y1="202.0" x2="360.3" y2="202.0" stroke="#ed7d31" stroke-width="1.1"/>
<text x="361.6" y="205.2" font-size="9" fill="#595959" textLength="13.3" lengthAdjust="spacingAndGlyphs">≥50</text>
<text x="346.8" y="246.3" font-size="9.4" fill="#1a1a1a" textLength="41.5" lengthAdjust="spacingAndGlyphs">P = 0,14973</text>
<polyline points="257.7,200.0 260.4,200.0 260.7,202.0 265.3,202.3 269.9,202.6 270.2,204.6 274.5,205.3 275.3,207.2 278.4,208.1 284.5,208.4 284.8,213.0 286.8,213.8 289.1,214.5 289.9,215.0 306.7,215.0 307.5,215.8 312.1,216.1 312.8,216.8 338.9,216.8 339.7,218.1 355.0,218.1 369.2,218.0 369.5,221.9 376.4,221.9 376.7,225.3 440.0,225.3" fill="none" stroke="#5b9bd5" stroke-width="1.25" stroke-linejoin="miter"/>
<polyline points="257.7,200.0 258.9,200.0 259.2,203.8 260.7,204.1 261.0,207.6 263.0,208.4 263.8,209.9 266.1,211.2 266.9,212.2 270.7,213.0 271.5,214.2 275.3,215.0 276.1,216.4 279.9,216.8 280.7,217.6 284.0,217.6 284.5,219.9 286.0,220.7 289.1,221.4 289.5,222.6 297.8,223.0 298.3,226.0 355.0,226.0 394.8,226.0" fill="none" stroke="#ed7d31" stroke-width="1.25" stroke-linejoin="miter"/>
<line x1="376.9" y1="225.6" x2="394.8" y2="225.6" stroke="#707070" stroke-width="1.25"/>
<rect x="467.8" y="179.6" width="209.2" height="150.7" rx="0" fill="#fff" stroke="#d9d9d9" stroke-width="1"/>
<line x1="484.6" y1="203.4" x2="484.6" y2="298.2" stroke="#d9d9d9" stroke-width="1"/>
<line x1="484.6" y1="298.2" x2="670.8" y2="298.2" stroke="#d9d9d9" stroke-width="1"/>
<text x="479.8" y="300.3" font-size="6" text-anchor="end" fill="#595959">0</text>
<text x="479.8" y="281.3" font-size="6" text-anchor="end" fill="#595959">0,2</text>
<text x="479.8" y="262.4" font-size="6" text-anchor="end" fill="#595959">0,4</text>
<text x="479.8" y="243.4" font-size="6" text-anchor="end" fill="#595959">0,6</text>
<text x="479.8" y="224.5" font-size="6" text-anchor="end" fill="#595959">0,8</text>
<text x="479.8" y="205.5" font-size="6" text-anchor="end" fill="#595959">1</text>
<text x="484.6" y="310.0" font-size="6" text-anchor="middle" fill="#595959">0</text>
<text x="507.9" y="310.0" font-size="6" text-anchor="middle" fill="#595959">10</text>
<text x="531.1" y="310.0" font-size="6" text-anchor="middle" fill="#595959">20</text>
<text x="554.4" y="310.0" font-size="6" text-anchor="middle" fill="#595959">30</text>
<text x="577.7" y="310.0" font-size="6" text-anchor="middle" fill="#595959">40</text>
<text x="601.0" y="310.0" font-size="6" text-anchor="middle" fill="#595959">50</text>
<text x="624.2" y="310.0" font-size="6" text-anchor="middle" fill="#595959">60</text>
<text x="647.5" y="310.0" font-size="6" text-anchor="middle" fill="#595959">70</text>
<text x="670.8" y="310.0" font-size="6" text-anchor="middle" fill="#595959">80</text>
<text x="472.5" y="316.9" font-size="5.6" text-anchor="middle" fill="#2a2a2a" stroke="#2a2a2a" stroke-width="0.15">&lt;60</text>
<text x="484.5" y="316.9" font-size="5.6" text-anchor="middle" fill="#2a2a2a" stroke="#2a2a2a" stroke-width="0.15">194</text>
<text x="496.0" y="316.9" font-size="5.6" text-anchor="middle" fill="#2a2a2a" stroke="#2a2a2a" stroke-width="0.15">186</text>
<text x="507.5" y="316.9" font-size="5.6" text-anchor="middle" fill="#2a2a2a" stroke="#2a2a2a" stroke-width="0.15">175</text>
<text x="519.0" y="316.9" font-size="5.6" text-anchor="middle" fill="#2a2a2a" stroke="#2a2a2a" stroke-width="0.15">123</text>
<text x="530.5" y="316.9" font-size="5.6" text-anchor="middle" fill="#2a2a2a" stroke="#2a2a2a" stroke-width="0.15">110</text>
<text x="542.0" y="316.9" font-size="5.6" text-anchor="middle" fill="#2a2a2a" stroke="#2a2a2a" stroke-width="0.15">87</text>
<text x="553.5" y="316.9" font-size="5.6" text-anchor="middle" fill="#2a2a2a" stroke="#2a2a2a" stroke-width="0.15">60</text>
<text x="565.0" y="316.9" font-size="5.6" text-anchor="middle" fill="#2a2a2a" stroke="#2a2a2a" stroke-width="0.15">44</text>
<text x="576.5" y="316.9" font-size="5.6" text-anchor="middle" fill="#2a2a2a" stroke="#2a2a2a" stroke-width="0.15">32</text>
<text x="588.0" y="316.9" font-size="5.6" text-anchor="middle" fill="#2a2a2a" stroke="#2a2a2a" stroke-width="0.15">24</text>
<text x="599.5" y="316.9" font-size="5.6" text-anchor="middle" fill="#2a2a2a" stroke="#2a2a2a" stroke-width="0.15">18</text>
<text x="611.0" y="316.9" font-size="5.6" text-anchor="middle" fill="#2a2a2a" stroke="#2a2a2a" stroke-width="0.15">15</text>
<text x="622.5" y="316.9" font-size="5.6" text-anchor="middle" fill="#2a2a2a" stroke="#2a2a2a" stroke-width="0.15">8</text>
<text x="634.0" y="316.9" font-size="5.6" text-anchor="middle" fill="#2a2a2a" stroke="#2a2a2a" stroke-width="0.15">2</text>
<text x="645.5" y="316.9" font-size="5.6" text-anchor="middle" fill="#2a2a2a" stroke="#2a2a2a" stroke-width="0.15">1</text>
<text x="657.0" y="316.9" font-size="5.6" text-anchor="middle" fill="#2a2a2a" stroke="#2a2a2a" stroke-width="0.15">1</text>
<text x="668.5" y="316.9" font-size="5.6" text-anchor="middle" fill="#2a2a2a" stroke="#2a2a2a" stroke-width="0.15">1</text>
<text x="472.5" y="327.0" font-size="5.6" text-anchor="middle" fill="#2a2a2a" stroke="#2a2a2a" stroke-width="0.15">≥60</text>
<text x="484.5" y="327.0" font-size="5.6" text-anchor="middle" fill="#2a2a2a" stroke="#2a2a2a" stroke-width="0.15">15</text>
<text x="496.0" y="327.0" font-size="5.6" text-anchor="middle" fill="#2a2a2a" stroke="#2a2a2a" stroke-width="0.15">11</text>
<text x="507.5" y="327.0" font-size="5.6" text-anchor="middle" fill="#2a2a2a" stroke="#2a2a2a" stroke-width="0.15">10</text>
<text x="519.0" y="327.0" font-size="5.6" text-anchor="middle" fill="#2a2a2a" stroke="#2a2a2a" stroke-width="0.15">7</text>
<text x="530.5" y="327.0" font-size="5.6" text-anchor="middle" fill="#2a2a2a" stroke="#2a2a2a" stroke-width="0.15">4</text>
<text x="542.0" y="327.0" font-size="5.6" text-anchor="middle" fill="#2a2a2a" stroke="#2a2a2a" stroke-width="0.15">4</text>
<text x="553.5" y="327.0" font-size="5.6" text-anchor="middle" fill="#2a2a2a" stroke="#2a2a2a" stroke-width="0.15">4</text>
<text x="565.0" y="327.0" font-size="5.6" text-anchor="middle" fill="#2a2a2a" stroke="#2a2a2a" stroke-width="0.15">2</text>
<text x="576.5" y="327.0" font-size="5.6" text-anchor="middle" fill="#2a2a2a" stroke="#2a2a2a" stroke-width="0.15">1</text>
<text x="588.0" y="327.0" font-size="5.6" text-anchor="middle" fill="#2a2a2a" stroke="#2a2a2a" stroke-width="0.15">0</text>
<text x="599.5" y="327.0" font-size="5.6" text-anchor="middle" fill="#2a2a2a" stroke="#2a2a2a" stroke-width="0.15">0</text>
<text x="611.0" y="327.0" font-size="5.6" text-anchor="middle" fill="#2a2a2a" stroke="#2a2a2a" stroke-width="0.15">0</text>
<text x="622.5" y="327.0" font-size="5.6" text-anchor="middle" fill="#2a2a2a" stroke="#2a2a2a" stroke-width="0.15">0</text>
<text x="634.0" y="327.0" font-size="5.6" text-anchor="middle" fill="#2a2a2a" stroke="#2a2a2a" stroke-width="0.15">0</text>
<text x="645.5" y="327.0" font-size="5.6" text-anchor="middle" fill="#2a2a2a" stroke="#2a2a2a" stroke-width="0.15">0</text>
<text x="657.0" y="327.0" font-size="5.6" text-anchor="middle" fill="#2a2a2a" stroke="#2a2a2a" stroke-width="0.15">0</text>
<text x="668.5" y="327.0" font-size="5.6" text-anchor="middle" fill="#2a2a2a" stroke="#2a2a2a" stroke-width="0.15">0</text>
<line x1="557.4" y1="199.2" x2="567.4" y2="199.2" stroke="#8cb8e4" stroke-width="1.1"/>
<text x="568.6" y="202.4" font-size="9" fill="#595959" textLength="13.3" lengthAdjust="spacingAndGlyphs">&lt;60</text>
<line x1="587.0" y1="199.2" x2="597.2" y2="199.2" stroke="#f2a472" stroke-width="1.1"/>
<text x="598.0" y="202.4" font-size="9" fill="#595959" textLength="13.8" lengthAdjust="spacingAndGlyphs">≥60</text>
<text x="611.0" y="247.6" font-size="9.4" fill="#1a1a1a" textLength="40.2" lengthAdjust="spacingAndGlyphs">P = 0,00131</text>
<polyline points="484.6,203.4 486.9,204.2 487.7,205.7 493.8,207.0 498.4,208.5 503.0,210.3 507.6,211.9 512.2,212.6 512.5,217.2 516.8,218.3 517.6,218.8 535.2,218.8 540.5,220.3 568.1,220.3 568.6,221.4 585.0,221.4 598.3,221.4 598.6,225.3 605.7,225.3 606.0,227.6 670.8,227.6" fill="none" stroke="#6ea6dc" stroke-width="1.0" stroke-linejoin="miter"/>
<polyline points="484.6,203.4 486.1,203.4 486.4,209.6 488.4,210.0 488.7,222.3 491.0,222.3 491.5,229.0 498.4,229.0 498.7,235.2 512.5,235.2 512.8,241.0 526.3,241.0 526.6,252.5 585.0,252.5 589.6,252.5" fill="none" stroke="#ef8c4c" stroke-width="1.0" stroke-linejoin="miter"/>
<text x="588.0" y="311.2" font-size="5" text-anchor="middle" fill="#8a8a8a">‥</text>
<text x="610.8" y="311.2" font-size="5" text-anchor="middle" fill="#8a8a8a">‥</text>
<text x="634.4" y="311.2" font-size="5" text-anchor="middle" fill="#8a8a8a">‥</text>
<text x="657.2" y="311.2" font-size="5" text-anchor="middle" fill="#8a8a8a">‥</text>
<rect x="12.6" y="331.4" width="316.9" height="28.4" rx="6.5" fill="#dae3f3" stroke="#34558f" stroke-width="2"/>
<text x="26.2" y="343.0" font-size="10.7" font-weight="bold" fill="#000" textLength="290.0" lengthAdjust="spacingAndGlyphs" stroke="#000" stroke-width="0.2">Mean syncope burden before and after CNA in a subgroup of</text>
<text x="89.9" y="356.5" font-size="10.7" font-weight="bold" fill="#000" textLength="163.1" lengthAdjust="spacingAndGlyphs" stroke="#000" stroke-width="0.2">patients with syncope recurrences</text>
<line x1="42.5" y1="370.3" x2="42.5" y2="475.3" stroke="#404040" stroke-width="1"/>
<line x1="42.5" y1="475.3" x2="300.7" y2="475.3" stroke="#8c8c8c" stroke-width="1"/>
<text x="37.4" y="477.4" font-size="6" text-anchor="end" fill="#595959">0,0</text>
<text x="37.4" y="459.9" font-size="6" text-anchor="end" fill="#595959">5,0</text>
<text x="37.4" y="442.4" font-size="6" text-anchor="end" fill="#595959">10,0</text>
<text x="37.4" y="424.9" font-size="6" text-anchor="end" fill="#595959">15,0</text>
<text x="37.4" y="407.4" font-size="6" text-anchor="end" fill="#595959">20,0</text>
<text x="37.4" y="389.9" font-size="6" text-anchor="end" fill="#595959">25,0</text>
<text x="37.4" y="372.4" font-size="6" text-anchor="end" fill="#595959">30,0</text>
<text x="45.3" y="371.8" font-size="7" fill="#1a1a1a" textLength="10.2" lengthAdjust="spacingAndGlyphs"># of</text>
<text x="45.3" y="380.5" font-size="7" fill="#1a1a1a" textLength="39.0" lengthAdjust="spacingAndGlyphs">syncope/year</text>
<rect x="50.3" y="449.1" width="7.6" height="26.2" rx="0" fill="#00b0f0" stroke="none" stroke-width="1"/>
<text x="54.1" y="445.4" font-size="6" text-anchor="middle" fill="#595959">7,5</text>
<rect x="59.5" y="470.4" width="7.6" height="4.9" rx="0" fill="#ffc000" stroke="none" stroke-width="1"/>
<text x="63.3" y="466.8" font-size="6" text-anchor="middle" fill="#595959">1,4</text>
<rect x="82.6" y="425.9" width="7.6" height="49.4" rx="0" fill="#00b0f0" stroke="none" stroke-width="1"/>
<text x="86.4" y="422.3" font-size="6" text-anchor="middle" fill="#595959">14,1</text>
<rect x="91.9" y="470.8" width="7.6" height="4.5" rx="0" fill="#ffc000" stroke="none" stroke-width="1"/>
<text x="95.7" y="467.1" font-size="6" text-anchor="middle" fill="#595959">1,3</text>
<rect x="147.2" y="447.3" width="7.6" height="28.0" rx="0" fill="#0070c0" stroke="none" stroke-width="1"/>
<text x="151.0" y="443.7" font-size="6" text-anchor="middle" fill="#595959">8,0</text>
<rect x="156.2" y="471.1" width="7.6" height="4.2" rx="0" fill="#ff0000" stroke="none" stroke-width="1"/>
<text x="160.0" y="467.5" font-size="6" text-anchor="middle" fill="#595959">1,2</text>
<rect x="179.2" y="418.6" width="7.6" height="56.7" rx="0" fill="#0070c0" stroke="none" stroke-width="1"/>
<text x="183.0" y="415.0" font-size="6" text-anchor="middle" fill="#595959">16,2</text>
<rect x="188.6" y="469.4" width="7.6" height="6.0" rx="0" fill="#ff3c00" stroke="none" stroke-width="1"/>
<text x="192.4" y="465.8" font-size="6" text-anchor="middle" fill="#595959">1,7</text>
<rect x="243.6" y="447.7" width="7.6" height="27.7" rx="0" fill="#7030a0" stroke="none" stroke-width="1"/>
<text x="247.4" y="444.1" font-size="6" text-anchor="middle" fill="#595959">7,9</text>
<rect x="253.3" y="471.1" width="7.6" height="4.2" rx="0" fill="#c00000" stroke="none" stroke-width="1"/>
<text x="257.1" y="467.5" font-size="6" text-anchor="middle" fill="#595959">1,2</text>
<rect x="275.9" y="379.1" width="7.6" height="96.2" rx="0" fill="#7030a0" stroke="none" stroke-width="1"/>
<text x="279.7" y="375.4" font-size="6" text-anchor="middle" fill="#595959">27,5</text>
<rect x="285.6" y="466.2" width="7.6" height="9.1" rx="0" fill="#c00000" stroke="none" stroke-width="1"/>
<text x="289.4" y="462.6" font-size="6" text-anchor="middle" fill="#595959">2,6</text>
<text x="44.9" y="430.2" font-size="7.6" fill="#262626" textLength="31.4" lengthAdjust="spacingAndGlyphs">P&lt;0.00001</text>
<text x="83.5" y="412.6" font-size="7.6" fill="#262626" textLength="31.5" lengthAdjust="spacingAndGlyphs">P&lt;0.00001</text>
<text x="146.0" y="432.1" font-size="7.6" fill="#262626" textLength="31.4" lengthAdjust="spacingAndGlyphs">P&lt;0.00001</text>
<text x="179.7" y="400.8" font-size="7.6" fill="#262626" textLength="31.3" lengthAdjust="spacingAndGlyphs">P&lt;0.00001</text>
<text x="244.4" y="436.3" font-size="7.6" fill="#262626" textLength="30.6" lengthAdjust="spacingAndGlyphs">P&lt;0.00001</text>
<text x="278.5" y="367.0" font-size="7.6" fill="#262626" textLength="20.2" lengthAdjust="spacingAndGlyphs">P=0.27</text>
<text x="51.7" y="492.6" font-size="9.6" fill="#595959" textLength="14.4" lengthAdjust="spacingAndGlyphs">&lt;40</text>
<text x="83.7" y="492.6" font-size="9.6" fill="#595959" textLength="14.4" lengthAdjust="spacingAndGlyphs">≥40</text>
<text x="148.0" y="492.6" font-size="9.6" fill="#595959" textLength="14.4" lengthAdjust="spacingAndGlyphs">&lt;50</text>
<text x="180.4" y="492.6" font-size="9.6" fill="#595959" textLength="14.4" lengthAdjust="spacingAndGlyphs">≥50</text>
<text x="244.6" y="492.6" font-size="9.6" fill="#595959" textLength="14.4" lengthAdjust="spacingAndGlyphs">&lt;60</text>
<text x="276.6" y="492.6" font-size="9.6" fill="#595959" textLength="14.4" lengthAdjust="spacingAndGlyphs">≥60</text>
<rect x="338.7" y="336.5" width="341.2" height="117.9" rx="18" fill="#dae3f3" stroke="#34558f" stroke-width="2"/>
<text x="350.0" y="358.4" font-size="13.3" font-weight="bold" fill="#000" textLength="78.4" lengthAdjust="spacingAndGlyphs" stroke="#000" stroke-width="0.25">Conclusion:</text>
<text x="349.6" y="377.7" font-size="12.3" font-weight="bold" fill="#000">•</text>
<text x="349.6" y="412.6" font-size="12.3" font-weight="bold" fill="#000">•</text>
<text x="369.2" y="377.7" font-size="12.3" font-weight="bold" fill="#000" textLength="259.2" lengthAdjust="spacingAndGlyphs" stroke="#000" stroke-width="0.22">Age is not an independent predictor of CNA</text>
<text x="369.2" y="394.9" font-size="12.3" font-weight="bold" fill="#000" textLength="45.2" lengthAdjust="spacingAndGlyphs" stroke="#000" stroke-width="0.22">efficacy</text>
<text x="369.2" y="412.6" font-size="12.3" font-weight="bold" fill="#000" textLength="284.8" lengthAdjust="spacingAndGlyphs" stroke="#000" stroke-width="0.22">However, patients with reflex syncope aged &gt;60</text>
<text x="369.2" y="429.8" font-size="12.3" font-weight="bold" fill="#000" textLength="281.7" lengthAdjust="spacingAndGlyphs" stroke="#000" stroke-width="0.22">years tend to have a higher syncope recurrence</text>
<text x="369.2" y="447.1" font-size="12.3" font-weight="bold" fill="#000" textLength="236.2" lengthAdjust="spacingAndGlyphs" stroke="#000" stroke-width="0.22">rate after CNA than younger individuals</text>
<rect x="350.9" y="461.1" width="317.1" height="27.9" rx="5" fill="#e7e6e6" stroke="#34558f" stroke-width="1.6"/>
<text x="357.6" y="472.7" font-size="7.9" fill="#000" textLength="297.2" lengthAdjust="spacingAndGlyphs" stroke="#000" stroke-width="0.18">Abbreviations: CNA = cardioneuroablation; EAM = electro-anatomical mapping; ICE =</text>
<text x="357.6" y="483.6" font-size="7.9" fill="#000" textLength="240.7" lengthAdjust="spacingAndGlyphs" stroke="#000" stroke-width="0.18">intracardiac echocardiography; ECVS = extracardiac vagal stimulation</text>
</svg>
</body></html>
